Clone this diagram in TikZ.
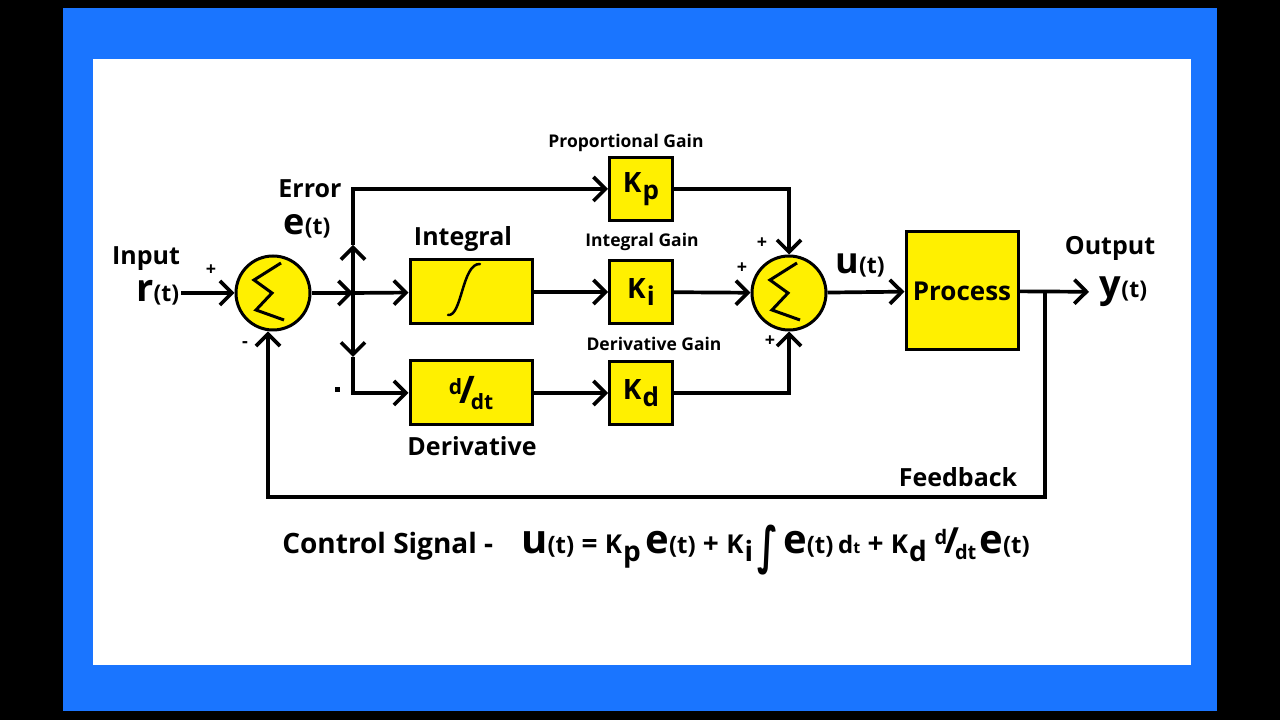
\documentclass[tikz,border=0pt]{standalone}
\usepackage{fontspec}
\usepackage{graphicx}
\setmainfont{Open Sans}
\newfontfamily\symfont{DejaVu Sans}
\usetikzlibrary{arrows.meta}

\definecolor{frameblue}{RGB}{26,117,255}
\definecolor{blockyellow}{RGB}{255,240,0}

% signal with a small (t)
\newcommand{\sig}[3]{{\fontsize{#1}{#1}\selectfont #3}{\fontsize{#2}{#2}\selectfont(t)}}
% gain with lowered index
\newcommand{\gain}[4]{{\fontsize{#1}{#1}\selectfont K}\kern1pt\raisebox{-#4pt}{\fontsize{#3}{#3}\selectfont #2}}
% d/dt
\newcommand{\ddt}[4]{\raisebox{#3pt}{\fontsize{#1}{#1}\selectfont d}\kern-3pt{\fontsize{#2}{#2}\selectfont/}\kern-4pt\raisebox{-#4pt}{\fontsize{#1}{#1}\selectfont dt}}
% integral sign
\newcommand{\bigint}{\raisebox{-10pt}{\scalebox{1}[1.5]{\symfont\fontsize{34}{34}\selectfont ∫}}}

\begin{document}
\begin{tikzpicture}[x=1pt, y=1pt, line width=3.7pt,
    >={Straight Barb[length=12pt,width=24pt]},
    summer/.style={circle, draw, fill=blockyellow, line width=3pt, minimum size=74pt, inner sep=0pt},
    opbox/.style={draw, fill=blockyellow, line width=3pt, minimum width=122pt, minimum height=64pt, inner sep=0pt},
    gainbox/.style={draw, fill=blockyellow, line width=3pt, minimum width=63pt, minimum height=63pt, inner sep=0pt,
        font=\bfseries},
    lbl/.style={font=\bfseries\fontsize{25}{25}\selectfont, inner sep=1pt},
    gainlbl/.style={font=\bfseries\fontsize{17.5}{18}\selectfont, inner sep=1pt},
    sgn/.style={font=\bfseries\fontsize{18}{18}\selectfont, inner sep=0pt}]

    % Background and frame
    \fill[black] (0,0) rectangle (1280,720);
    \fill[frameblue] (63,9) rectangle (1217,712);
    \fill[white] (93,55) rectangle (1191,661);

    % Blocks
    \node[summer] (sum1) at (273,427) {};
    \node[summer] (sum2) at (789,427) {};
    \node[opbox] (integ) at (471,428) {};
    \node[opbox, font=\bfseries] (deriv) at (471,327) {\ddt{21}{38}{9}{6}};
    \node[gainbox] (Kp) at (641,531) {\gain{28}{p}{26}{7}};
    \node[gainbox] (Ki) at (641,428) {\gain{28}{i}{26}{7}};
    \node[gainbox] (Kd) at (641,327) {\gain{28}{d}{26}{7}};
    \node[draw, fill=blockyellow, line width=3pt, minimum width=112pt, minimum height=118pt,
        font=\bfseries\fontsize{26}{26}\selectfont] (process) at (962,429) {Process};

    % Sigma and integral marks
    \foreach \s in {sum1,sum2}
        \draw[line width=3pt, line join=miter, shift={(\s.center)}]
            (8,30) -- (-19,13) -- (-1,0) -- (-17,-17) -- (11,-27);
    \draw[line width=2.5pt, line cap=round, shift={(integ.center)}]
        (-23,-23) .. controls (-9,-25) and (-9,29) .. (9,28);

    % Signals
    \node[lbl, anchor=east, inner sep=0pt] (rin) at (181,427) {\sig{38}{23}{r}};
    \node[lbl, anchor=west, inner sep=0pt, inner xsep=9pt] (yout) at (1089,428) {\sig{38}{23}{y}};
    \coordinate (branch) at (353,427);
    \coordinate (upTip) at (353,475);
    \coordinate (downTip) at (353,363);
    \coordinate (fbSplit) at (1045,429);
    \coordinate (fbCorner) at (1045,223);

    % Connectors
    \draw[->] (rin) -- (sum1);
    \draw[->] (sum1) -- (branch);
    \draw[->] (branch) -- (integ);
    \draw[->] (branch) -- (upTip);
    \draw[->] (upTip) |- (Kp);
    \draw[->] (branch) -- (downTip);
    \draw[->] (downTip) |- (deriv);
    \draw[->] (integ) -- (Ki);
    \draw[->] (deriv) -- (Kd);
    \draw[->] (Kp) -| (sum2);
    \draw[->] (Ki) -- (sum2);
    \draw[->] (Kd) -| (sum2);
    \draw[->] (sum2) -- (process);
    \draw[->] (process) -- (yout);
    \draw[->] (fbSplit) -- (fbCorner) -| ([xshift=-5pt]sum1.south);
    \node[fill, inner sep=0pt, minimum size=5pt] (dot) at (337,330) {};

    % Labels
    \node[lbl] (lInput) at (146,461) {Input};
    \node[lbl] (lError) at (310,531) {Error};
    \node[lbl] (lErr) at (307,494) {\sig{36}{23}{e}};
    \node[lbl] (lInteg) at (463,481) {Integral};
    \node[lbl] (lDeriv) at (472,274) {Derivative};
    \node[lbl] (lU) at (860,455) {\sig{36}{23}{u}};
    \node[lbl] (lOutput) at (1110,472) {Output};
    \node[lbl] (lFeed) at (958,243) {Feedback};
    \node[gainlbl] (lKp) at (626,577) {Proportional Gain};
    \node[gainlbl] (lKi) at (642,478) {Integral Gain};
    \node[gainlbl] (lKd) at (654,376) {Derivative Gain};

    % Signs
    \node[sgn] (p1) at (211,450) {+};
    \node[sgn] (m1) at (245,375) {-};
    \node[sgn] (p2) at (762,477) {+};
    \node[sgn] (p3) at (742,452) {+};
    \node[sgn] (p4) at (770,379) {+};

    % Control law
    \node[font=\bfseries\fontsize{28}{28}\selectfont] (law) at (656,170)
        {Control Signal -\quad \sig{40}{24}{u} = \gain{26}{p}{28}{8}\,\sig{40}{24}{e}
        + \gain{26}{i}{28}{8}\,\bigint\,\sig{40}{24}{e}\,{\fontsize{24}{24}\selectfont d}{\fontsize{16}{16}\selectfont t}
        + \gain{26}{d}{28}{8}\;\ddt{20}{36}{9}{6}\kern3pt\sig{40}{24}{e}};
\end{tikzpicture}
\end{document}
